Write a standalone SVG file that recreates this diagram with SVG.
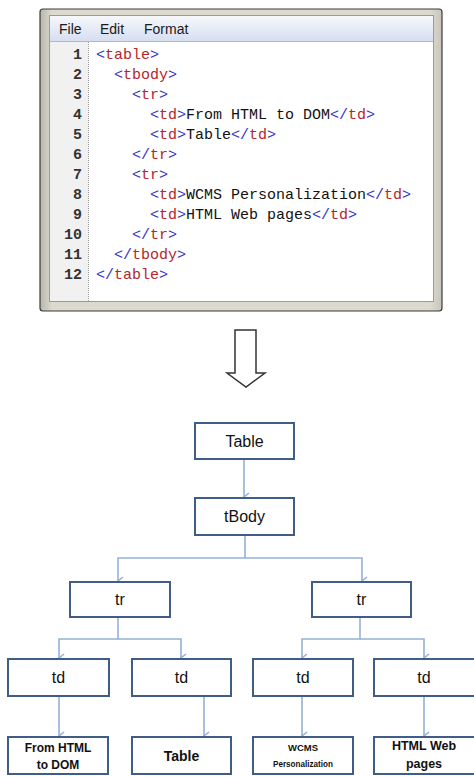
<svg xmlns="http://www.w3.org/2000/svg" width="474" height="777" viewBox="0 0 474 777">
<style>
.code{font-family:"Liberation Mono","DejaVu Sans Mono",monospace;font-size:15px;fill:#111}
.b{fill:#3434c8}
.r{fill:#b3262b}
.ln{font-family:"Liberation Mono","DejaVu Sans Mono",monospace;font-size:15px;font-weight:bold;fill:#333;text-anchor:end}
.menu{font-family:"Liberation Sans",Arial,sans-serif;font-size:14px;fill:#1a1a1a}
.box{fill:#fff;stroke:#3f5d86;stroke-width:2}
.lbl{font-family:"Liberation Sans",Arial,sans-serif;font-size:16px;fill:#111;text-anchor:middle}
.leaf{font-family:"Liberation Sans",Arial,sans-serif;font-weight:bold;fill:#111;text-anchor:middle}
.con{fill:none;stroke:#95b1d6;stroke-width:1.6}
</style>
<defs>
<linearGradient id="mg" x1="0" y1="0" x2="0" y2="1">
<stop offset="0" stop-color="#f6f8fc"/>
<stop offset="1" stop-color="#d6def0"/>
</linearGradient>
<linearGradient id="fg" x1="0" y1="0" x2="1" y2="0">
<stop offset="0" stop-color="#b8b6ac"/>
<stop offset="0.03" stop-color="#dcd9cf"/>
<stop offset="0.97" stop-color="#dcd9cf"/>
<stop offset="1" stop-color="#c8c6bc"/>
</linearGradient>
<marker id="ah" viewBox="0 0 10 10" refX="5" refY="9" markerWidth="10" markerHeight="10" markerUnits="userSpaceOnUse" orient="auto-start-reverse">
<path d="M1,4 L5,9 L9,4" fill="none" stroke="#95b1d6" stroke-width="1.6"/>
</marker>
</defs>
<rect width="474" height="777" fill="#fff"/>

<g id="editor">
<rect x="40" y="9" width="402" height="302" rx="3" fill="url(#fg)" stroke="#3a3a3a" stroke-width="1.2"/>
<rect x="49.5" y="15.5" width="384" height="286" fill="#fff" stroke="#9a9a9a"/>
<rect x="50" y="16" width="383" height="25" fill="url(#mg)"/>
<line x1="50" y1="41.5" x2="433" y2="41.5" stroke="#b4b6c0"/>
<rect x="50" y="42" width="38" height="259" fill="#f1f1f1"/>
<line x1="88.5" y1="42" x2="88.5" y2="301" stroke="#9a9a9a" stroke-dasharray="1,1"/>
<text class="menu" x="59" y="34">File</text>
<text class="menu" x="100" y="34">Edit</text>
<text class="menu" x="144" y="34">Format</text>
<text class="ln" x="82" y="59">1</text>
<text class="ln" x="82" y="79">2</text>
<text class="ln" x="82" y="99">3</text>
<text class="ln" x="82" y="119">4</text>
<text class="ln" x="82" y="139">5</text>
<text class="ln" x="82" y="159">6</text>
<text class="ln" x="82" y="179">7</text>
<text class="ln" x="82" y="199">8</text>
<text class="ln" x="82" y="219">9</text>
<text class="ln" x="82" y="239">10</text>
<text class="ln" x="82" y="259">11</text>
<text class="ln" x="82" y="279">12</text>
<text class="code" x="96" y="59"><tspan class="b">&lt;</tspan><tspan class="r">table</tspan><tspan class="b">&gt;</tspan></text>
<text class="code" x="114" y="79"><tspan class="b">&lt;</tspan><tspan class="r">tbody</tspan><tspan class="b">&gt;</tspan></text>
<text class="code" x="132" y="99"><tspan class="b">&lt;</tspan><tspan class="r">tr</tspan><tspan class="b">&gt;</tspan></text>
<text class="code" x="150" y="119"><tspan class="b">&lt;</tspan><tspan class="r">td</tspan><tspan class="b">&gt;</tspan>From HTML to DOM<tspan class="b">&lt;/</tspan><tspan class="r">td</tspan><tspan class="b">&gt;</tspan></text>
<text class="code" x="150" y="139"><tspan class="b">&lt;</tspan><tspan class="r">td</tspan><tspan class="b">&gt;</tspan>Table<tspan class="b">&lt;/</tspan><tspan class="r">td</tspan><tspan class="b">&gt;</tspan></text>
<text class="code" x="132" y="159"><tspan class="b">&lt;/</tspan><tspan class="r">tr</tspan><tspan class="b">&gt;</tspan></text>
<text class="code" x="132" y="179"><tspan class="b">&lt;</tspan><tspan class="r">tr</tspan><tspan class="b">&gt;</tspan></text>
<text class="code" x="150" y="199"><tspan class="b">&lt;</tspan><tspan class="r">td</tspan><tspan class="b">&gt;</tspan>WCMS Personalization<tspan class="b">&lt;/</tspan><tspan class="r">td</tspan><tspan class="b">&gt;</tspan></text>
<text class="code" x="150" y="219"><tspan class="b">&lt;</tspan><tspan class="r">td</tspan><tspan class="b">&gt;</tspan>HTML Web pages<tspan class="b">&lt;/</tspan><tspan class="r">td</tspan><tspan class="b">&gt;</tspan></text>
<text class="code" x="132" y="239"><tspan class="b">&lt;/</tspan><tspan class="r">tr</tspan><tspan class="b">&gt;</tspan></text>
<text class="code" x="114" y="259"><tspan class="b">&lt;/</tspan><tspan class="r">tbody</tspan><tspan class="b">&gt;</tspan></text>
<text class="code" x="96" y="279"><tspan class="b">&lt;/</tspan><tspan class="r">table</tspan><tspan class="b">&gt;</tspan></text>
</g>

<g id="bigArrow">
<polygon points="235,330 256,330 256,373 265,373 246,387 227,373 235,373" fill="#fff" stroke="#333" stroke-width="1.5" stroke-linejoin="miter"/>
</g>

<g id="connectors">
<path class="con" d="M244,459 V497" marker-end="url(#ah)"/>
<path class="con" d="M245,535 V558 H118 V581" marker-end="url(#ah)"/>
<path class="con" d="M245,558 H362 V581" marker-end="url(#ah)"/>
<path class="con" d="M118,617 V639 H59 V658" marker-end="url(#ah)"/>
<path class="con" d="M118,639 H181 V658" marker-end="url(#ah)"/>
<path class="con" d="M360,617 V639 H302 V658" marker-end="url(#ah)"/>
<path class="con" d="M360,639 H424 V658" marker-end="url(#ah)"/>
<path class="con" d="M59,696 V736" marker-end="url(#ah)"/>
<path class="con" d="M204,696 V736" marker-end="url(#ah)"/>
<path class="con" d="M302,696 V736" marker-end="url(#ah)"/>
<path class="con" d="M424,696 V736" marker-end="url(#ah)"/>
</g>

<g id="nTable"><rect class="box" x="195" y="423" width="99" height="36"/><text class="lbl" x="244.5" y="447">Table</text></g>
<g id="nTbody"><rect class="box" x="195" y="498" width="99" height="37"/><text class="lbl" x="244.5" y="522">tBody</text></g>
<g id="nTr1"><rect class="box" x="70" y="582" width="100" height="35"/><text class="lbl" x="120" y="605">tr</text></g>
<g id="nTr2"><rect class="box" x="312" y="582" width="99" height="35"/><text class="lbl" x="361.5" y="605">tr</text></g>
<g id="nTd1"><rect class="box" x="8" y="659" width="101" height="37"/><text class="lbl" x="58.5" y="683">td</text></g>
<g id="nTd2"><rect class="box" x="132" y="659" width="99" height="37"/><text class="lbl" x="181.5" y="683">td</text></g>
<g id="nTd3"><rect class="box" x="253" y="659" width="100" height="37"/><text class="lbl" x="303" y="683">td</text></g>
<g id="nTd4"><rect class="box" x="374" y="659" width="101" height="37"/><text class="lbl" x="424" y="683">td</text></g>
<g id="nLeaf1"><rect class="box" x="8" y="737" width="100" height="37"/><text class="leaf" x="58" y="752" font-size="12">From HTML</text><text class="leaf" x="58" y="769" font-size="12">to DOM</text></g>
<g id="nLeaf2"><rect class="box" x="132" y="737" width="99" height="37"/><text class="leaf" x="181.5" y="761" font-size="14">Table</text></g>
<g id="nLeaf3"><rect class="box" x="253" y="737" width="100" height="37"/><text class="leaf" x="303" y="751" font-size="9.5" textLength="30" lengthAdjust="spacingAndGlyphs">WCMS</text><text class="leaf" x="303" y="767" font-size="9.5" textLength="60" lengthAdjust="spacingAndGlyphs">Personalization</text></g>
<g id="nLeaf4"><rect class="box" x="374" y="737" width="101" height="37"/><text class="leaf" x="424" y="750" font-size="12.5">HTML Web</text><text class="leaf" x="424" y="768" font-size="12.5">pages</text></g>
</svg>
